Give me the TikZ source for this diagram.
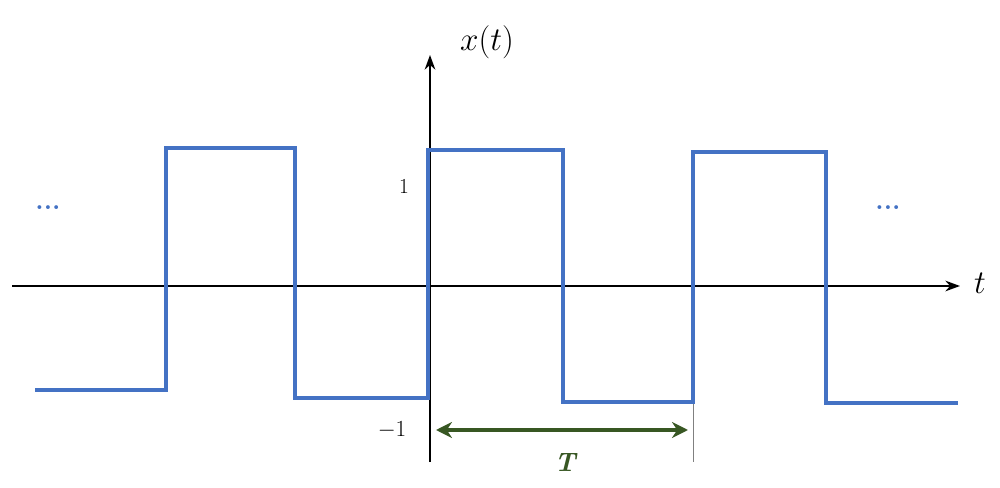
\documentclass[tikz,border=0pt]{standalone}
\usetikzlibrary{arrows.meta}
\definecolor{wave}{RGB}{68,114,196}
\definecolor{dg}{RGB}{56,87,35}
\tikzset{axis/.style={line width=1.2pt,-{Stealth[length=11pt,width=8pt]}},
 sig/.style={wave,line width=3.5pt}, lab/.style={font=\fontsize{16}{19}\selectfont},
 big/.style={font=\fontsize{26}{30}\selectfont}}
\begin{document}
\begin{tikzpicture}[x=0.75pt,y=-0.75pt]
\useasboundingbox (0,0) rectangle (1000,488);
\coordinate (xl) at (12,286); \coordinate (xr) at (960,286);
\coordinate (yb) at (430,462); \coordinate (yt) at (430,55);
\draw[axis] (xl) -- (xr);
\draw[axis] (yb) -- (yt);
\node[big] (xt) at (487,42) {$x(t)$};
\node[big] (tl) at (980,283) {$t$};
\draw[sig] (35,390) -- (166,390) -- (166,148) -- (295,148) -- (295,398) -- (428,398) -- (428,150) -- (563,150) -- (563,402) -- (693,402) -- (693,152) -- (826,152) -- (826,403) -- (958,403);
\node[wave,font=\fontsize{20}{24}\selectfont\bfseries] (d1) at (48,208) {...};
\node[wave,font=\fontsize{20}{24}\selectfont\bfseries] (d2) at (888,208) {...};
\node[lab] (one) at (404,186) {1};
\node[lab] (mone) at (392,430) {$-1$};
\coordinate (p1) at (693,404); \coordinate (p2) at (693,462);
\draw[gray,very thin] (p1) -- (p2);
\coordinate (a1) at (436,430); \coordinate (a2) at (688,430);
\draw[dg,line width=2.5pt,{Stealth[length=12pt,width=12pt]}-{Stealth[length=12pt,width=12pt]}] (a1) -- (a2);
\node[dg,font=\fontsize{20}{24}\selectfont\bfseries\itshape] (T) at (565,462) {T};
\end{tikzpicture}
\end{document}
